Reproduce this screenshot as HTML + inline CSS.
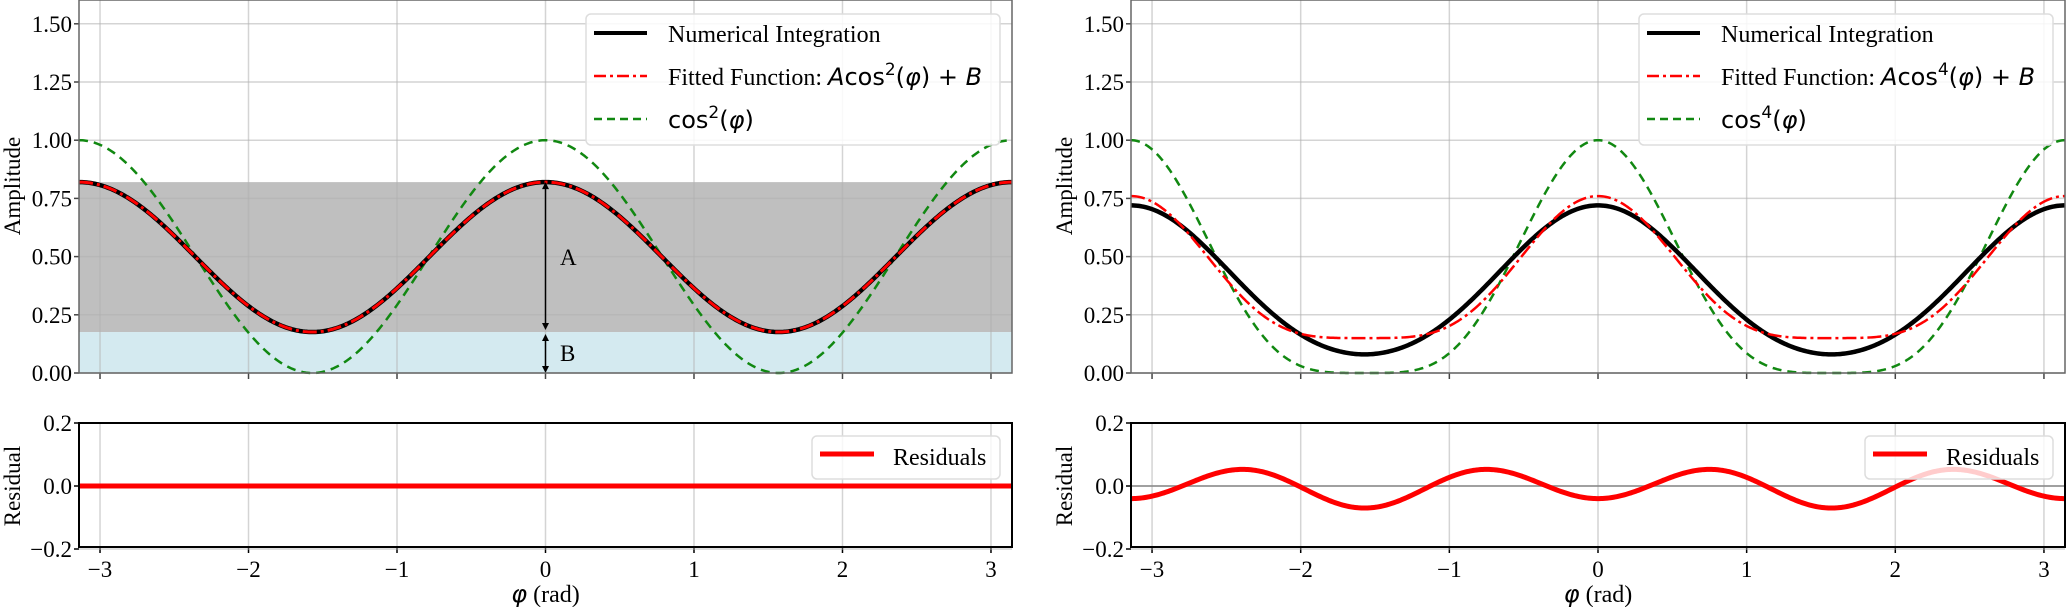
<!DOCTYPE html>
<html><head><meta charset="utf-8"><style>
html,body{margin:0;padding:0;background:#fff;}
svg{display:block;}
text{font-family:"Liberation Serif",serif;fill:#000;}
.m{font-family:"DejaVu Sans",sans-serif;}
</style></head><body>
<svg id="s" width="2067" height="607" xmlns="http://www.w3.org/2000/svg"></svg>
<script>
const S=document.getElementById('s');let h='';
const TOP0=373,TS=232.8;
const RZ=486;
function ya(v){return TOP0-v*TS;}
function yres(v){return RZ-v*(63/0.2);}
function path(f,x0,x1,ymap,n){let d='';for(let i=0;i<=n;i++){const t=-Math.PI+2*Math.PI*i/n;const X=x0+(t+Math.PI)/(2*Math.PI)*(x1-x0);d+=(i?'L':'M')+X.toFixed(2)+' '+ymap(f(t)).toFixed(2);}return d;}
function panel(L,R,k){
  const sc=(R-L)/(2*Math.PI),zx=L+Math.PI*sc;
  const X=v=>zx+v*sc;
  if(k==2){
    h+=`<rect x="${L}" y="${ya(0.82)}" width="${R-L}" height="${ya(0.176)-ya(0.82)}" fill="#bfbfbf"/>`;
    h+=`<rect x="${L}" y="${ya(0.176)}" width="${R-L}" height="${ya(0)-ya(0.176)}" fill="#d4eaf0"/>`;
  }
  for(let v=-3;v<=3;v++){h+=`<line x1="${X(v)}" y1="0" x2="${X(v)}" y2="373" stroke="#b0b0b0" stroke-opacity="0.55" stroke-width="1.5"/>`;
    h+=`<line x1="${X(v)}" y1="423" x2="${X(v)}" y2="547" stroke="#b0b0b0" stroke-opacity="0.55" stroke-width="1.5"/>`;
    h+=`<line x1="${X(v)}" y1="373" x2="${X(v)}" y2="379" stroke="#444" stroke-width="1.5"/>`;
    h+=`<line x1="${X(v)}" y1="547" x2="${X(v)}" y2="553" stroke="#000" stroke-width="1.5"/>`;
    h+=`<text x="${X(v)}" y="577" font-size="23" text-anchor="middle">${v<0?'\u2212'+(-v):v}</text>`;}
  for(let i=0;i<=6;i++){const v=i*0.25,y=ya(v);
    h+=`<line x1="${L}" y1="${y}" x2="${R}" y2="${y}" stroke="#b0b0b0" stroke-opacity="0.55" stroke-width="1.5"/>`;
    h+=`<line x1="${L-5}" y1="${y}" x2="${L}" y2="${y}" stroke="#444" stroke-width="1.5"/>`;
    h+=`<text x="${L-7}" y="${y+8}" font-size="23" text-anchor="end">${v.toFixed(2)}</text>`;}
  [[0.2,'0.2'],[0,'0.0'],[-0.2,'\u22120.2']].forEach(([v,t])=>{const y=yres(v);
    h+=`<line x1="${L}" y1="${y}" x2="${R}" y2="${y}" stroke="#b0b0b0" stroke-opacity="0.55" stroke-width="1.5"/>`;
    h+=`<line x1="${L-5}" y1="${y}" x2="${L}" y2="${y}" stroke="#000" stroke-width="1.5"/>`;
    h+=`<text x="${L-7}" y="${y+8}" font-size="23" text-anchor="end">${t}</text>`;});
  const n=600;
  if(k==2){
    h+=`<path d="${path(t=>Math.cos(t)**2,L,R,ya,n)}" fill="none" stroke="#118811" stroke-width="2.5" stroke-dasharray="9,6"/>`;
    h+=`<path d="${path(t=>0.644*Math.cos(t)**2+0.176,L,R,ya,n)}" fill="none" stroke="#000" stroke-width="4.5"/>`;
    h+=`<path d="${path(t=>0.644*Math.cos(t)**2+0.176,L,R,ya,n)}" fill="none" stroke="#f00" stroke-width="3" stroke-dasharray="14,4,3,4"/>`;
    const ax=zx;
    function arr(y1,y2){h+=`<line x1="${ax}" y1="${y1+6}" x2="${ax}" y2="${y2-6}" stroke="#000" stroke-width="1.5"/>`;
      h+=`<path d="M${ax-3.5} ${y1+7}L${ax} ${y1}L${ax+3.5} ${y1+7}Z" fill="#000"/>`;
      h+=`<path d="M${ax-3.5} ${y2-7}L${ax} ${y2}L${ax+3.5} ${y2-7}Z" fill="#000"/>`;}
    arr(ya(0.82),ya(0.176)-2);arr(ya(0.176)+2,ya(0));
    h+=`<text x="560" y="265" font-size="23">A</text><text x="560" y="361" font-size="23">B</text>`;
    h+=`<line x1="${L}" y1="${yres(0)}" x2="${R}" y2="${yres(0)}" stroke="#f00" stroke-width="5"/>`;
  } else {
    const blk=t=>{const c=Math.cos(t)**2;return 0.08+0.459*c+0.181*c*c;};
    const red=t=>0.61*Math.cos(t)**4+0.15;
    h+=`<path d="${path(t=>Math.cos(t)**4,L,R,ya,n)}" fill="none" stroke="#118811" stroke-width="2.5" stroke-dasharray="9,6"/>`;
    h+=`<path d="${path(blk,L,R,ya,n)}" fill="none" stroke="#000" stroke-width="4.5"/>`;
    h+=`<path d="${path(red,L,R,ya,n)}" fill="none" stroke="#f00" stroke-width="2.5" stroke-dasharray="14,4,3,4"/>`;
    h+=`<line x1="${L}" y1="${yres(0)}" x2="${R}" y2="${yres(0)}" stroke="#888" stroke-width="1.5"/>`;
    h+=`<path d="${path(t=>blk(t)-red(t),L,R,yres,n)}" fill="none" stroke="#f00" stroke-width="5"/>`;
  }
  h+=`<rect x="${L}" y="0" width="${R-L}" height="373" fill="none" stroke="#666" stroke-width="1.5"/>`;
  h+=`<rect x="${L}" y="423" width="${R-L}" height="124" fill="none" stroke="#000" stroke-width="2"/>`;
  const lx=R-426,lr=R-12;
  h+=`<rect x="${lx}" y="14" width="${lr-lx}" height="131" rx="5" fill="#fff" fill-opacity="0.85" stroke="#ddd" stroke-width="1.5"/>`;
  h+=`<line x1="${lx+8}" y1="33" x2="${lx+61}" y2="33" stroke="#000" stroke-width="4"/>`;
  h+=`<line x1="${lx+8}" y1="76" x2="${lx+61}" y2="76" stroke="#f00" stroke-width="2.5" stroke-dasharray="12,4,3,4"/>`;
  h+=`<line x1="${lx+8}" y1="119" x2="${lx+61}" y2="119" stroke="#118811" stroke-width="2.5" stroke-dasharray="8,5"/>`;
  h+=`<text x="${lx+82}" y="42" font-size="24">Numerical Integration</text>`;
  h+=`<text x="${lx+82}" y="85" font-size="24">Fitted Function: <tspan class="m" font-style="italic">A</tspan><tspan class="m">cos</tspan><tspan class="m" font-size="17" dy="-10">${k}</tspan><tspan class="m" dy="10">(</tspan><tspan class="m" font-style="italic">φ</tspan><tspan class="m">) + </tspan><tspan class="m" font-style="italic">B</tspan></text>`;
  h+=`<text x="${lx+82}" y="128" font-size="24"><tspan class="m">cos</tspan><tspan class="m" font-size="17" dy="-10">${k}</tspan><tspan class="m" dy="10">(</tspan><tspan class="m" font-style="italic">φ</tspan><tspan class="m">)</tspan></text>`;
  const rl=R-200;
  h+=`<rect x="${rl}" y="436" width="188" height="43" rx="5" fill="#fff" fill-opacity="0.8" stroke="#ddd" stroke-width="1.5"/>`;
  h+=`<line x1="${rl+8}" y1="454" x2="${rl+62}" y2="454" stroke="#f00" stroke-width="5"/>`;
  h+=`<text x="${rl+81}" y="465" font-size="24">Residuals</text>`;
  h+=`<text x="${zx}" y="602" font-size="24" text-anchor="middle"><tspan class="m" font-style="italic">φ</tspan> (rad)</text>`;
  const lab=L-59;
  h+=`<text transform="translate(${lab},186) rotate(-90)" font-size="23" text-anchor="middle">Amplitude</text>`;
  h+=`<text transform="translate(${lab},486) rotate(-90)" font-size="23" text-anchor="middle">Residual</text>`;
}
panel(79,1012,2);
panel(1131,2065,4);
S.innerHTML=h;
</script>
</body></html>
